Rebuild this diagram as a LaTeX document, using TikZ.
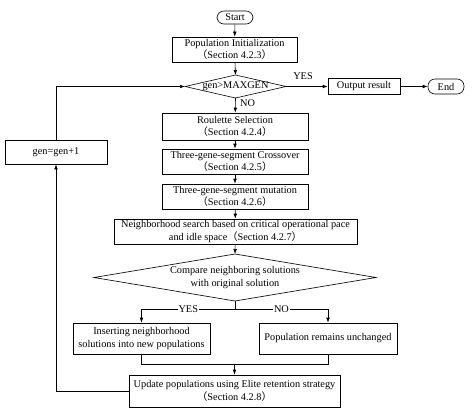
\documentclass[tikz,border=0pt]{standalone}
\usepackage{fontspec}
\setmainfont{Liberation Serif}
\newfontfamily\cjk{Noto Sans CJK SC}
\usepackage{tikz}
\usetikzlibrary{arrows.meta, positioning}
\newcommand{\sect}[1]{{\cjk （}Section #1{\cjk ）}}

\begin{document}
\begin{tikzpicture}[x=1pt, y=-1pt, line width=0.6pt,
        >={Latex[length=5pt, width=3.6pt]},
        every node/.style={font=\fontsize{10.3}{12.3}\selectfont},
        box/.style={draw, align=center, inner sep=0pt},
        term/.style={box, rounded corners=7pt, minimum width=36pt}]
            \useasboundingbox (0,0) rectangle (472,413);
            \node(start)[term, minimum height=13pt] at (235,17.5) {Start};
            \node(init)[box, minimum width=125pt, minimum height=25pt] at (234.5,49.5) {Population Initialization\\\sect{4.2.3}};
            \node(gen) at (235.5,86.5) {gen>MAXGEN};
            \coordinate (genN) at (235.5,75);
            \coordinate (genS) at (235.5,98);
            \coordinate (genW) at (185,86.5);
            \coordinate (genE) at (286,86.5);
            \draw (genN) -- (genE) -- (genS) -- (genW) -- cycle;
            \node(out)[box, minimum width=72pt, minimum height=16pt] at (364,86.5) {Output result};
            \node(end)[term, minimum height=15pt] at (446,86.5) {End};
            \node(roul)[box, minimum width=146pt, minimum height=27pt] at (235,126.5) {Roulette Selection\\\sect{4.2.4}};
            \node(cross)[box, minimum width=146pt, minimum height=25pt] at (235,161.5) {Three-gene-segment Crossover\\\sect{4.2.5}};
            \node(mut)[box, minimum width=146pt, minimum height=25pt] at (235,196.5) {Three-gene-segment mutation\\\sect{4.2.6}};
            \node(nbr)[box, minimum width=243pt, minimum height=25pt] at (235.5,231.5) {Neighborhood search based on critical operational pace\\and idle space\sect{4.2.7}};
            \node(cmp)[align=center] at (235,277.5) {Compare neighboring solutions\\with original solution};
            \coordinate (cmpN) at (235,254);
            \coordinate (cmpS) at (235,301);
            \coordinate (cmpW) at (94,277.5);
            \coordinate (cmpE) at (376,277.5);
            \draw (cmpN) -- (cmpE) -- (cmpS) -- (cmpW) -- cycle;
            \node(ins)[box, minimum width=137pt, minimum height=31pt] at (141.5,338.5) {Inserting neighborhood\\solutions into new populations};
            \node(keep)[box, minimum width=138pt, minimum height=31pt] at (328,338.5) {Population remains unchanged};
            \node(upd)[box, minimum width=211pt, minimum height=32pt] at (234.5,391) {Update populations using Elite retention strategy\\\sect{4.2.8}};
            \node(inc)[box, minimum width=102pt, minimum height=24pt] at (56,152) {gen=gen+1};
            \coordinate (fork) at (235,309);
            \coordinate (merge) at (234.5,364);
            \draw[->] (start) -- (init);
            \draw[->] (init) -- (genN);
            \draw[->] (genE) -- (out) node(yes1)[above=3pt of genE, xshift=17pt] {YES};
            \draw[->] (out) -- (end);
            \draw[->] (genS) -- (roul) node(no1)[right=1pt of genS, yshift=-5pt] {NO};
            \draw[->] (roul) -- (cross);
            \draw[->] (cross) -- (mut);
            \draw[->] (mut) -- (nbr);
            \draw[->] (nbr) -- (cmpN);
            \draw (cmpS) -- (fork);
            \draw[->] (fork) -| node(yes2)[pos=0.25, fill=white, inner sep=1pt] {YES} (ins.north);
            \draw[->] (fork) -| node(no2)[pos=0.25, fill=white, inner sep=1pt] {NO} (keep.north);
            \draw (ins) |- (merge);
            \draw (keep) |- (merge);
            \draw[->] (merge) -- (upd);
            \draw[->] (upd.west) -| (inc.south);
            \draw[->] (inc.north) |- (genW);
        \end{tikzpicture}
\end{document}
